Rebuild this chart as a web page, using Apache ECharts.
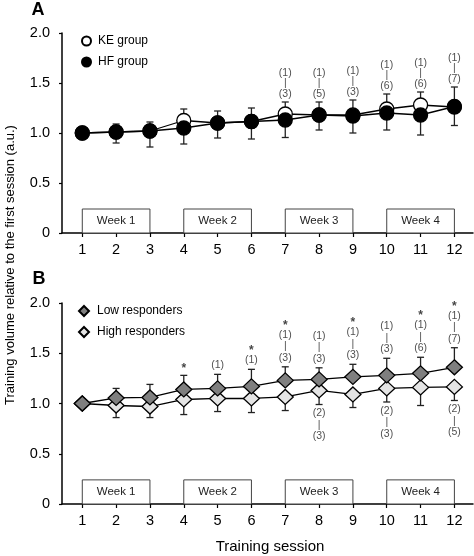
<!DOCTYPE html>
<html>
<head>
<meta charset="utf-8">
<script src="https://cdn.jsdelivr.net/npm/echarts@6/dist/echarts.min.js"></script>
<style>
html, body { margin: 0; padding: 0; background: #fff; }
#chart { width: 474px; height: 556px; }
</style>
</head>
<body>
<div id="chart"></div>
<script>
const sessions = [1, 2, 3, 4, 5, 6, 7, 8, 9, 10, 11, 12]
const weekLabels = ['Week 1', 'Week 2', 'Week 3', 'Week 4']
const weekStart = [1, 4, 7, 10]
const weekEnd = [3, 6, 9, 12]

// panel A
const keMean = [1.00, 1.01, 1.02, 1.125, 1.10, 1.115, 1.19, 1.18, 1.18, 1.24, 1.28, 1.26]
const keSD = [0, 0.08, 0.09, 0.115, 0.12, 0.135, 0.12, 0.13, 0.15, 0.15, 0.13, 0.20]
const hfMean = [1.00, 1.01, 1.02, 1.05, 1.10, 1.115, 1.13, 1.18, 1.17, 1.20, 1.18, 1.265]
const hfSD = [0, 0.11, 0.16, 0.16, 0.15, 0.175, 0.175, 0.15, 0.17, 0.17, 0.20, 0.19]
const annotA = ['', '', '', '', '', '', '(1)\n|\n(3)', '(1)\n|\n(5)', '(1)\n|\n(3)', '(1)\n|\n(6)', '(1)\n|\n(6)', '(1)\n|\n(7)']

// panel B
const lowMean = [1.00, 1.055, 1.06, 1.14, 1.15, 1.17, 1.23, 1.24, 1.265, 1.28, 1.30, 1.36]
const lowSD = [0, 0.095, 0.13, 0.14, 0.14, 0.17, 0.135, 0.115, 0.125, 0.17, 0.16, 0.195]
const highMean = [1.00, 0.98, 0.97, 1.04, 1.05, 1.05, 1.065, 1.13, 1.09, 1.15, 1.16, 1.165]
const highSD = [0, 0.12, 0.11, 0.15, 0.13, 0.14, 0.135, 0.14, 0.13, 0.135, 0.18, 0.135]
const annotBUp = ['', '', '', '*', '(1)', '*\n(1)', '*\n(1)\n|\n(3)', '(1)\n|\n(3)', '*\n(1)\n|\n(3)', '(1)\n|\n(3)', '*\n(1)\n|\n(6)', '*\n(1)\n|\n(7)']
const annotBDown = ['', '', '', '', '', '', '', '(2)\n|\n(3)', '', '(2)\n|\n(3)', '', '(2)\n|\n(5)']

const font = 'Liberation Sans, Arial, sans-serif'
const chart = echarts.init(document.getElementById('chart'))

function errorBar(params, api) {
  const x = api.value(0)
  const a = api.coord([x, api.value(1)])
  const b = api.coord([x, api.value(2)])
  const half = 3.5
  const st = { stroke: '#222', lineWidth: 1.3 }
  return {
    type: 'group',
    children: [
      { type: 'line', shape: { x1: a[0], y1: a[1], x2: b[0], y2: b[1] }, style: st },
      { type: 'line', shape: { x1: b[0] - half, y1: b[1], x2: b[0] + half, y2: b[1] }, style: st }
    ]
  }
}

function weekBox(params, api) {
  const p0 = api.coord([api.value(0), 0.24])
  const p1 = api.coord([api.value(1), 0])
  return {
    type: 'rect',
    shape: { x: p0[0], y: p0[1], width: p1[0] - p0[0], height: p1[1] - p0[1] },
    style: { fill: '#fff', stroke: '#444', lineWidth: 1 },
    textContent: {
      style: { text: weekLabels[params.dataIndex], fill: '#222', font: '11.5px ' + font }
    },
    textConfig: { position: 'inside' }
  }
}

function errData(mean, sd, sign) {
  return sessions.map((s, i) => [s, mean[i], mean[i] + sign * sd[i]])
}

// stars get their own rich style, the rest stays plain
function richText(t) {
  return t.split('\n').map(l => (l === '*' ? '{s|*}' : '{t|' + l + '}')).join('\n')
}

function annotData(mean, sd, sign, texts) {
  return sessions.map((s, i) => ({
    value: [s, mean[i] + sign * sd[i]],
    label: { formatter: texts[i] ? richText(texts[i]) : '' }
  }))
}

function xAxisCfg(idx) {
  return {
    type: 'value', gridIndex: idx, min: 0.4, max: 12.55,
    axisLine: { lineStyle: { color: '#000', width: 1.5 } },
    axisTick: { customValues: sessions, length: 4, lineStyle: { color: '#000', width: 1.2 } },
    axisLabel: { customValues: sessions, color: '#000', fontSize: 14.5, fontFamily: font, margin: 9 },
    splitLine: { show: false }
  }
}

function yAxisCfg(idx) {
  return {
    type: 'value', gridIndex: idx, min: 0, max: 2, interval: 0.5,
    axisLine: { show: true, lineStyle: { color: '#000', width: 1.5 } },
    axisTick: { show: true, length: 3, lineStyle: { color: '#000', width: 1.2 } },
    axisLabel: {
      color: '#000', fontSize: 14.5, fontFamily: font, margin: 12,
      formatter: v => (v === 0 ? '0' : v.toFixed(1))
    },
    splitLine: { show: false }
  }
}

function lineSeries(name, idx, mean, symbol, size, fill) {
  return {
    name, type: 'line', xAxisIndex: idx, yAxisIndex: idx, z: 4,
    data: sessions.map((s, i) => [s, mean[i]]),
    symbol, symbolSize: size, showSymbol: true,
    itemStyle: { color: fill, borderColor: '#000', borderWidth: 1.3 },
    lineStyle: { color: '#000', width: 1.3 },
    emphasis: { disabled: true }
  }
}

function errSeries(idx, mean, sd, sign) {
  return {
    type: 'custom', xAxisIndex: idx, yAxisIndex: idx, z: 2,
    renderItem: errorBar, data: errData(mean, sd, sign)
  }
}

function annotSeries(idx, mean, sd, sign, texts, lh) {
  return {
    type: 'scatter', xAxisIndex: idx, yAxisIndex: idx, symbolSize: 0, z: 5,
    data: annotData(mean, sd, sign, texts),
    label: {
      show: true, position: sign > 0 ? 'top' : 'bottom', distance: 3, align: 'center',
      rich: {
        t: { color: '#222', fontSize: 10.5, lineHeight: lh, fontFamily: font, align: 'center' },
        s: { color: '#111', fontSize: 12, fontWeight: 'bold', lineHeight: lh, fontFamily: font, align: 'center', padding: [4, 0, 0, 0] }
      }
    },
    emphasis: { disabled: true }
  }
}

function weekSeries(idx) {
  return {
    type: 'custom', xAxisIndex: idx, yAxisIndex: idx, z: 1,
    renderItem: weekBox, data: weekStart.map((s, i) => [s, weekEnd[i]])
  }
}

chart.setOption({
  backgroundColor: '#fff',
  animation: false,
  grid: [
    { left: 62, top: 33, width: 411, height: 200 },
    { left: 62, top: 303, width: 411, height: 201 }
  ],
  xAxis: [xAxisCfg(0), xAxisCfg(1)],
  yAxis: [yAxisCfg(0), yAxisCfg(1)],
  legend: [
    {
      data: [{ name: 'KE group', icon: 'circle' }, { name: 'HF group', icon: 'circle' }],
      orient: 'vertical', left: 76, top: 29, itemWidth: 9, itemHeight: 9, itemGap: 7,
      textStyle: { fontSize: 12, fontFamily: font, color: '#000', lineHeight: 14, padding: [0, 0, 0, 2] }
    },
    {
      data: [{ name: 'Low responders', icon: 'diamond' }, { name: 'High responders', icon: 'diamond' }],
      orient: 'vertical', left: 73, top: 299, itemWidth: 10, itemHeight: 10, itemGap: 7,
      textStyle: { fontSize: 12, fontFamily: font, color: '#000', lineHeight: 14, padding: [0, 0, 0, 3] }
    }
  ],
  graphic: [
    { type: 'text', x: 38, y: 10, style: { text: 'A', font: 'bold 18px ' + font, fill: '#000', textAlign: 'center', textVerticalAlign: 'middle' } },
    { type: 'text', x: 39, y: 279, style: { text: 'B', font: 'bold 18px ' + font, fill: '#000', textAlign: 'center', textVerticalAlign: 'middle' } },
    { type: 'text', x: 10, y: 265, rotation: Math.PI / 2, style: { text: 'Training volume relative to the first session (a.u.)', font: '13px ' + font, fill: '#000', textAlign: 'center', textVerticalAlign: 'middle' } },
    { type: 'text', x: 270, y: 547, style: { text: 'Training session', font: '15px ' + font, fill: '#000', textAlign: 'center', textVerticalAlign: 'middle' } }
  ],
  series: [
    weekSeries(0),
    errSeries(0, keMean, keSD, 1),
    errSeries(0, hfMean, hfSD, -1),
    lineSeries('KE group', 0, keMean, 'circle', 14, '#fff'),
    lineSeries('HF group', 0, hfMean, 'circle', 14, '#000'),
    annotSeries(0, keMean, keSD, 1, annotA, 10.5),

    weekSeries(1),
    errSeries(1, lowMean, lowSD, 1),
    errSeries(1, highMean, highSD, -1),
    lineSeries('High responders', 1, highMean, 'diamond', [16, 15], '#e4e4e4'),
    lineSeries('Low responders', 1, lowMean, 'diamond', [16, 15], '#7f7f7f'),
    annotSeries(1, lowMean, lowSD, 1, annotBUp, 11.5),
    annotSeries(1, highMean, highSD, -1, annotBDown, 11.5)
  ]
})
</script>
</body>
</html>
